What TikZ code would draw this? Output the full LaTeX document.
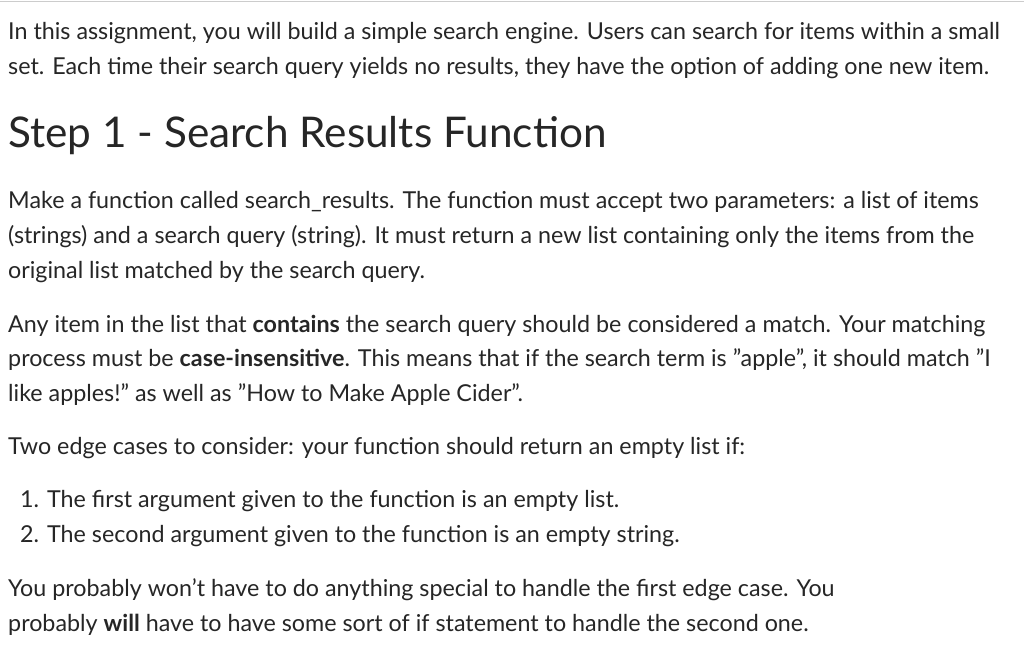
\documentclass[tikz,border=0pt]{standalone}
\usepackage{fontspec}
\setmainfont{Lato}
\newcommand{\dq}{\char34{}}
\begin{document}
\begin{tikzpicture}[x=1pt,y=-1pt,
  t/.style={anchor=base west,inner sep=0pt,font=\fontsize{23.3}{26}\selectfont,text=black!85},
  h/.style={anchor=base west,inner sep=0pt,font=\fontsize{42.3}{48}\selectfont,text=black!85}]
\useasboundingbox[fill=white] (0,0) rectangle (1024,663);
\draw[black!20] (0,1) -- (1024,1);
\node[t] (l1) at (8,40) {In this assignment, you will build a simple search engine. Users can search for items within a small};
\node[t] (l2) at (8,75) {set. Each time their search query yields no results, they have the option of adding one new item.};
\node[h] (hd) at (8,148) {Step 1 - Search Results Function};
\node[t] (p1) at (8,208) {Make a function called search\_results. The function must accept two parameters: a list of items};
\node[t] (p2) at (8,243) {(strings) and a search query (string). It must return a new list containing only the items from the};
\node[t] (p3) at (8,278) {original list matched by the search query.};
\node[t] (q1) at (8,332) {Any item in the list that \textbf{contains} the search query should be considered a match. Your matching};
\node[t] (q2) at (8,366) {process must be \textbf{case-insensitive}. This means that if the search term is \dq apple\dq, it should match \dq I};
\node[t] (q3) at (8,401) {like apples!\dq{} as well as \dq How to Make Apple Cider\dq.};
\node[t] (r1) at (8,454) {Two edge cases to consider: your function should return an empty list if:};
\node[t] (s1) at (20,507) {1. The first argument given to the function is an empty list.};
\node[t] (s2) at (20,542) {2. The second argument given to the function is an empty string.};
\node[t] (u1) at (8,596) {You probably won\char39{}t have to do anything special to handle the first edge case. You};
\node[t] (u2) at (8,631) {probably \textbf{will} have to have some sort of if statement to handle the second one.};
\end{tikzpicture}
\end{document}
